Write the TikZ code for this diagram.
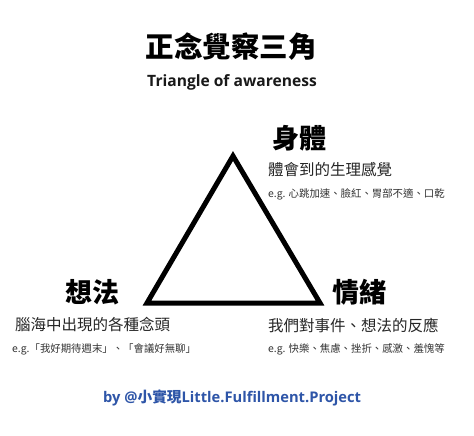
\documentclass[tikz,border=0pt]{standalone}
\usepackage{fontspec}
\setmainfont{Open Sans}
\newfontfamily\cjk{Noto Sans CJK TC}
\definecolor{byblue}{HTML}{2E55A8}
\begin{document}
\begin{tikzpicture}[x=1pt,y=-1pt,
  txt/.style={inner sep=0pt, anchor=west},
  heading/.style={txt, font=\cjk\bfseries\fontsize{27}{30}\selectfont},
  sub/.style={txt, font=\cjk\fontsize{15.5}{18}\selectfont, text=black!85},
  eg/.style={txt, font=\cjk\fontsize{10.4}{13}\selectfont, text=black!80},
  tri/.style={line width=5pt, line join=miter}]
\useasboundingbox[fill=white] (0,0) rectangle (474,436);
\node[inner sep=0pt, font=\cjk\bfseries\fontsize{28.5}{32}\selectfont] (title) at (231,47) {正念覺察三角};
\node[inner sep=0pt, font=\bfseries\fontsize{15.6}{18}\selectfont, text=black!90] (subtitle) at (232,82) {Triangle of awareness};
\coordinate (top) at (233,156);
\coordinate (left) at (147,303);
\coordinate (right) at (320,303);
\draw[tri] (top) -- (left) -- (right) -- cycle;
\node[heading] (body) at (272,138) {身體};
\node[sub] (bodysub) at (268,170) {體會到的生理感覺};
\node[eg] (bodyeg) at (268,194) {e.g. 心跳加速、臉紅、胃部不適、口乾};
\node[heading] (thought) at (65,292) {想法};
\node[sub] (thoughtsub) at (15,325) {腦海中出現的各種念頭};
\node[eg] (thoughteg) at (12,349) {e.g.「我好期待週末」、「會議好無聊」};
\node[heading] (emo) at (332,292) {情緒};
\node[sub] (emosub) at (268,325) {我們對事件、想法的反應};
\node[eg] (emoeg) at (268,349) {e.g. 快樂、焦慮、挫折、感激、羞愧等};
\node[inner sep=0pt, anchor=west, text=byblue, font=\bfseries\fontsize{14.7}{17}\selectfont] (by) at (103,398) {by @{\cjk\bfseries 小實現}Little.Fulfillment.Project};
\end{tikzpicture}
\end{document}
